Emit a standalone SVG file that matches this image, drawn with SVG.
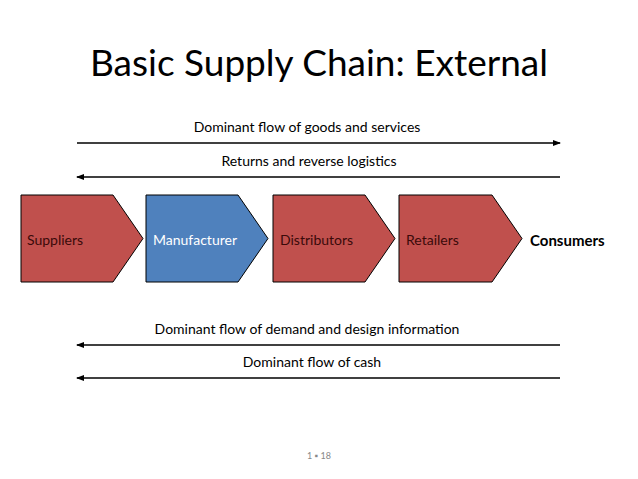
<svg xmlns="http://www.w3.org/2000/svg" width="638" height="479" viewBox="0 0 638 479">
<style>
text{font-family:Lato,"Open Sans","Liberation Sans",sans-serif}
.n{stroke:#000;stroke-width:1}
.r{fill:#c0504d}.b{fill:#4f81bd}
.l{font-size:14px;fill:#000}
.c{stroke:#000;stroke-width:1.3;fill:none}
</style>
<defs><marker id="a" markerWidth="8" markerHeight="6" refX="7" refY="3" orient="auto-start-reverse" markerUnits="userSpaceOnUse"><path d="M0,0L8,3L0,6z" fill="#000"/></marker></defs>
<rect width="638" height="479" fill="#fff"/>
<text x="319" y="76" font-size="37" text-anchor="middle" fill="#000">Basic Supply Chain: External</text>
<g id="connectors">
<line class="c" x1="77" y1="143" x2="560" y2="143" marker-end="url(#a)"/>
<line class="c" x1="560" y1="177" x2="77" y2="177" marker-end="url(#a)"/>
<line class="c" x1="560" y1="345" x2="77" y2="345" marker-end="url(#a)"/>
<line class="c" x1="560" y1="378" x2="77" y2="378" marker-end="url(#a)"/>
</g>
<text class="l" x="307" y="132" text-anchor="middle">Dominant flow of goods and services</text>
<text class="l" x="309" y="166" text-anchor="middle">Returns and reverse logistics</text>
<text class="l" x="307" y="334" text-anchor="middle">Dominant flow of demand and design information</text>
<text class="l" x="312" y="367" text-anchor="middle">Dominant flow of cash</text>
<g id="suppliers"><path class="n r" d="M21,195H113L143,238.5L113,282H21z"/><text x="27" y="245" font-size="14" fill="#3a0a0a">Suppliers</text></g>
<g id="manufacturer"><path class="n b" d="M146,195H238L268,238.5L238,282H146z"/><text x="153" y="245" font-size="14" fill="#fff">Manufacturer</text></g>
<g id="distributors"><path class="n r" d="M273,195H365L395,238.5L365,282H273z"/><text x="280" y="245" font-size="14" fill="#3a0a0a">Distributors</text></g>
<g id="retailers"><path class="n r" d="M399,195H492L522,238.5L492,282H399z"/><text x="406" y="245" font-size="14" fill="#3a0a0a">Retailers</text></g>
<g id="consumers"><text x="530" y="246" font-size="15" font-weight="bold" fill="#000">Consumers</text></g>
<text x="319" y="459" font-size="9" fill="#888" text-anchor="middle">1 ▪ 18</text>
</svg>
